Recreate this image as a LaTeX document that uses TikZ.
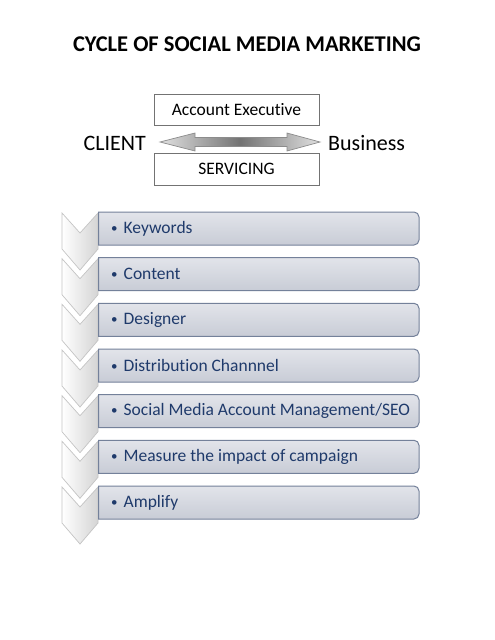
\documentclass[tikz,border=0pt]{standalone}
\usepackage{fontspec}
\setmainfont[Ligatures={TeX,NoCommon}]{Carlito}
\definecolor{boxline}{HTML}{74819A}
\definecolor{boxtop}{HTML}{E2E4EA}
\definecolor{boxbot}{HTML}{C8CCD6}
\definecolor{itemtext}{HTML}{1F3A6B}
\definecolor{chevline}{HTML}{C4C4C4}
\definecolor{chevdark}{HTML}{D4D4D4}
\tikzset{
  itemlabel/.style={anchor=west,inner sep=0pt,text=itemtext,font=\fontsize{17.5}{20}\selectfont},
  plainbox/.style={draw=black!55,line width=0.8pt,minimum width=165pt,minimum height=31pt,inner sep=0pt,font=\fontsize{17.5}{20}\selectfont},
  sidelabel/.style={inner sep=0pt,font=\fontsize{22}{26}\selectfont}
}
\newcommand{\chevitem}[3]{%
  \pgfmathsetmacro\ta{-#2-1}\pgfmathsetmacro\tb{-#2-21}%
  \pgfmathsetmacro\tc{-#2-37}\pgfmathsetmacro\td{-#2-58}%
  \shade[left color=white,right color=chevdark,draw=chevline,line width=0.7pt]
    (62,\ta) -- (80,\tb) -- (98,\ta) -- (98,\tc) -- (80,\td) -- (62,\tc) -- cycle;
}
\newcommand{\boxitem}[3]{%
  \pgfmathsetmacro\ba{-#2}\pgfmathsetmacro\bb{-#2-5}%
  \pgfmathsetmacro\bc{-#2-28}\pgfmathsetmacro\bd{-#2-33}\pgfmathsetmacro\bm{-#2-16.5}%
  \shade[top color=boxtop,bottom color=boxbot,draw=boxline,line width=1pt]
    (98.5,\ba) -- (414,\ba) arc[start angle=90,end angle=0,radius=5pt]
    -- (419,\bc) arc[start angle=0,end angle=-90,radius=5pt] -- (98.5,\bd) -- cycle;
  \node[itemlabel] (#1) at (111,\bm) {\raisebox{1pt}{\fontsize{13}{15}\selectfont\textbullet}\hspace{6pt}#3};
}
\begin{document}
\begin{tikzpicture}[x=1pt,y=1pt]
\useasboundingbox[fill=white] (0,0) rectangle (495,-640);
\node[inner sep=0pt,font=\bfseries\fontsize{22.5}{26}\selectfont] (title) at (247,-44) {CYCLE OF SOCIAL MEDIA MARKETING};
\node[plainbox] (ae) at (236.5,-109.5) {Account Executive};
\node[plainbox,minimum height=32pt] (serv) at (236.5,-169) {SERVICING};
\node[sidelabel,anchor=east] (client) at (146,-143) {CLIENT};
\node[sidelabel,anchor=west] (business) at (328,-143) {Business};
\shade[left color=black!12,right color=black!12,middle color=black!55,draw=black!45,line width=0.7pt]
  (160,-142) -- (195,-133) -- (195,-137.5) -- (287,-137.5) -- (287,-133) -- (320,-142)
  -- (287,-151) -- (287,-146.5) -- (195,-146.5) -- (195,-151) -- cycle;
\chevitem{c1}{212}{}
\chevitem{c2}{257.7}{}
\chevitem{c3}{303.3}{}
\chevitem{c4}{349}{}
\chevitem{c5}{394.7}{}
\chevitem{c6}{440.3}{}
\chevitem{c7}{486}{}
\boxitem{i1}{212}{Keywords}
\boxitem{i2}{257.7}{Content}
\boxitem{i3}{303.3}{Designer}
\boxitem{i4}{349}{Distribution Channnel}
\boxitem{i5}{394.7}{Social Media Account Management/SEO}
\boxitem{i6}{440.3}{Measure the impact of campaign}
\boxitem{i7}{486}{Amplify}
\end{tikzpicture}
\end{document}
